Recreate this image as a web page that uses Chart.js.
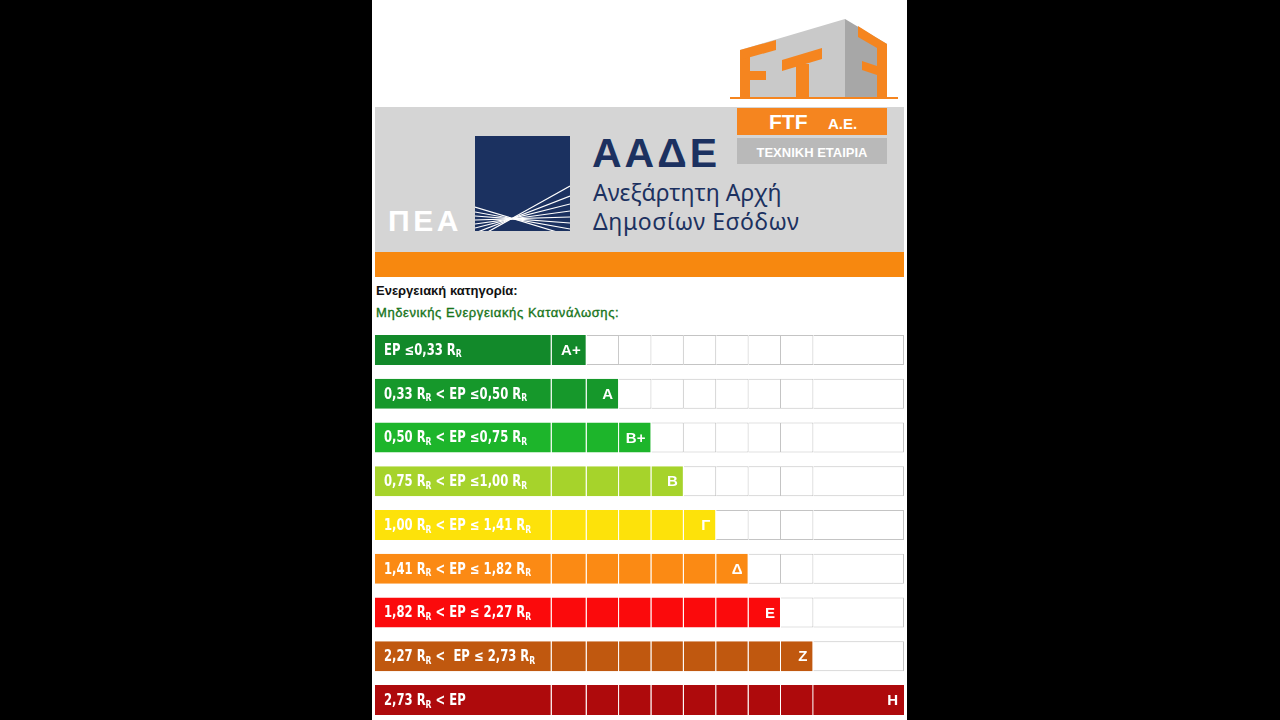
<!DOCTYPE html>
<html lang="el">
<head>
<meta charset="utf-8">
<script src="https://cdn.jsdelivr.net/npm/chart.js@4/dist/chart.umd.min.js"></script>
<style>
  html, body { margin: 0; padding: 0; background: #000; }
  body { width: 1280px; height: 720px; overflow: hidden; position: relative; }
  #sheet { position: absolute; left: 372px; top: 0; width: 535px; height: 720px; background: #fff; }
  #header { position: absolute; left: 0; top: 0; }
  .caption { position: absolute; left: 376px; font-family: "Liberation Sans", Arial, sans-serif; font-size: 13px; white-space: nowrap; }
  #cap1 { top: 283px; font-weight: bold; color: #111; }
  #cap2 { top: 305px; color: #17741a; letter-spacing: 0.6px; -webkit-text-stroke: 0.35px #17741a; }
  #box { position: absolute; left: 375px; top: 328px; width: 529px; height: 394px; }
</style>
</head>
<body>
<div id="sheet"></div>

<svg id="header" width="1280" height="280" xmlns="http://www.w3.org/2000/svg">
  <!-- grey band + orange strip -->
  <rect x="375" y="107" width="529" height="145" fill="#d5d5d5"/>
  <rect x="375" y="252" width="529" height="25" fill="#f7880f"/>

  <!-- FTF building -->
  <polygon points="740,50 845,19 845,99 740,99" fill="#c9c9c9"/>
  <polygon points="845,19 887,44 887,99 845,99" fill="#a7a7a7"/>
  <g fill="#f5851f">
    <rect x="740" y="50" width="10" height="49"/>
    <polygon points="740,50 776,40 776,50 740,60"/>
    <rect x="740" y="71" width="26" height="9"/>
    <polygon points="782,60 822,48 822,59 782,71"/>
    <rect x="796" y="64" width="13" height="35"/>
    <polygon points="877,38 887,44 887,99 877,99"/>
    <polygon points="858,26 877,38 877,48 858,37"/>
    <polygon points="862,61 877,66 877,75 862,70"/>
  </g>
  <line x1="730" y1="98" x2="898" y2="98" stroke="#f5851f" stroke-width="2"/>

  <rect x="737" y="108" width="150" height="27" fill="#f5851f"/>
  <text x="769" y="129" fill="#fff" font-family="Liberation Sans, Arial, sans-serif" font-weight="bold" font-size="21">FTF</text>
  <text x="828" y="129" fill="#fff" font-family="Liberation Sans, Arial, sans-serif" font-weight="bold" font-size="15">A.E.</text>
  <rect x="737" y="138" width="150" height="26" fill="#b9b9b9"/>
  <text x="812" y="157" fill="#fff" text-anchor="middle" font-family="Liberation Sans, Arial, sans-serif" font-weight="bold" font-size="13">ΤΕΧΝΙΚΗ ΕΤΑΙΡΙΑ</text>

  <!-- ΠΕΑ -->
  <text x="388" y="231" fill="#fff" font-family="Liberation Sans, Arial, sans-serif" font-weight="bold" font-size="30" letter-spacing="3.5">ΠΕΑ</text>

  <!-- AADE mark -->
  <clipPath id="sq"><rect x="475" y="136" width="95" height="95"/></clipPath>
  <rect x="475" y="136" width="95" height="95" fill="#1b3160"/>
  <g clip-path="url(#sq)" stroke="#fff" stroke-width="1.2">
    <line x1="475" y1="239" x2="570" y2="186"/>
    <line x1="475" y1="233" x2="570" y2="196"/>
    <line x1="475" y1="228" x2="570" y2="204"/>
    <line x1="475" y1="224" x2="570" y2="211"/>
    <line x1="475" y1="220" x2="570" y2="217"/>
    <line x1="475" y1="216" x2="570" y2="223"/>
    <line x1="475" y1="212" x2="570" y2="229"/>
    <line x1="475" y1="207" x2="570" y2="236"/>
  </g>
  <text x="592" y="167" fill="#1c3160" font-family="Liberation Sans, Arial, sans-serif" font-weight="bold" font-size="41" letter-spacing="3">ΑΑΔΕ</text>
  <text x="593" y="201" fill="#1c3160" font-family="Noto Sans, Open Sans, sans-serif" font-size="23">Ανεξάρτητη Αρχή</text>
  <text x="593" y="230" fill="#1c3160" font-family="Noto Sans, Open Sans, sans-serif" font-size="23" letter-spacing="0.6">Δημοσίων Εσόδων</text>
</svg>

<div class="caption" id="cap1">Ενεργειακή κατηγορία:</div>
<div class="caption" id="cap2">Μηδενικής Ενεργειακής Κατανάλωσης:</div>

<div id="box"><canvas id="chart"></canvas></div>

<script>
// energy classes, top (best) to bottom (worst)
const classes = ["A+", "A", "B+", "B", "Γ", "Δ", "Ε", "Ζ", "Η"]
// "_R" marks a subscript R
const ranges = [
  "EP ≤0,33 R_R",
  "0,33 R_R < EP ≤0,50 R_R",
  "0,50 R_R < EP ≤0,75 R_R",
  "0,75 R_R < EP ≤1,00 R_R",
  "1,00 R_R < EP ≤ 1,41 R_R",
  "1,41 R_R < EP ≤ 1,82 R_R",
  "1,82 R_R < EP ≤ 2,27 R_R",
  "2,27 R_R <  EP ≤ 2,73 R_R",
  "2,73 R_R < EP"
]
// how many scale cells each class bar reaches past the label cell
const filledCells = [1, 2, 3, 4, 5, 6, 7, 8, 9]
const classColors = ["#12892a", "#16982b", "#1db52b", "#a6d32b", "#fde20a", "#fb8a14", "#fb0a0c", "#c0580f", "#ae0a0c"]

// scale cells: the label cell, eight narrow cells, one wide end cell
const cellWidths = [5.4, 1.07, 0.99, 0.99, 0.99, 0.99, 0.99, 0.99, 0.99, 2.77]
const total = cellWidths.reduce((a, b) => a + b, 0)

const isFilled = (row, col) => col <= filledCells[row]

const datasets = cellWidths.map((w, col) => ({
  data: classes.map(() => w),
  backgroundColor: (c) => isFilled(c.dataIndex, col) ? classColors[c.dataIndex] : "#ffffff",
  borderColor: (c) => isFilled(c.dataIndex, col) ? "rgba(255,255,255,0.28)" : "#c4c4c4",
  borderWidth: (c) => isFilled(c.dataIndex, col)
    ? { top: 0, bottom: 0, left: 0, right: col === cellWidths.length - 1 ? 0 : 1 }
    : { top: 1, bottom: 1, left: 0, right: 1 },
  borderSkipped: false,
  barPercentage: 0.685,
  categoryPercentage: 1,
}))

// range text in the label cell, class letter at the end of each bar
const labelsPlugin = {
  id: "classLabels",
  afterDatasetsDraw(chart) {
    const { ctx, scales: { x, y } } = chart
    const fam = '"Liberation Sans Narrow", "DejaVu Sans Condensed", "Liberation Sans", sans-serif'
    ctx.save()
    ctx.fillStyle = "#fff"
    ctx.textBaseline = "middle"
    ctx.textAlign = "left"
    classes.forEach((cls, i) => {
      const yc = y.getPixelForValue(i) + 1
      // the source uses a condensed face, squeeze the fallback to match
      ctx.save()
      ctx.translate(x.getPixelForValue(0) + 9, yc)
      ctx.scale(0.86, 1)
      let xc = 0
      ranges[i].split(/(_R)/).forEach((part) => {
        if (part === "_R") {
          ctx.font = "bold 10px " + fam
          ctx.fillText("R", xc, 4)
          xc += ctx.measureText("R").width
        } else if (part) {
          ctx.font = "bold 15px " + fam
          ctx.fillText(part, xc, 0)
          xc += ctx.measureText(part).width
        }
      })
      ctx.restore()

      const end = cellWidths.slice(0, filledCells[i] + 1).reduce((a, b) => a + b, 0)
      ctx.font = 'bold 15px "Liberation Sans", Arial, sans-serif'
      ctx.textAlign = "right"
      ctx.fillText(cls, x.getPixelForValue(end) - 6, yc)
      ctx.textAlign = "left"
    })
    ctx.restore()
  }
}

new Chart(document.getElementById("chart"), {
  type: "bar",
  data: { labels: classes, datasets },
  options: {
    indexAxis: "y",
    responsive: true,
    maintainAspectRatio: false,
    animation: false,
    layout: { padding: 0 },
    plugins: { legend: { display: false }, tooltip: { enabled: false } },
    scales: {
      x: { stacked: true, min: 0, max: total, display: false },
      y: { stacked: true, display: false }
    }
  },
  plugins: [labelsPlugin]
})
</script>
</body>
</html>
